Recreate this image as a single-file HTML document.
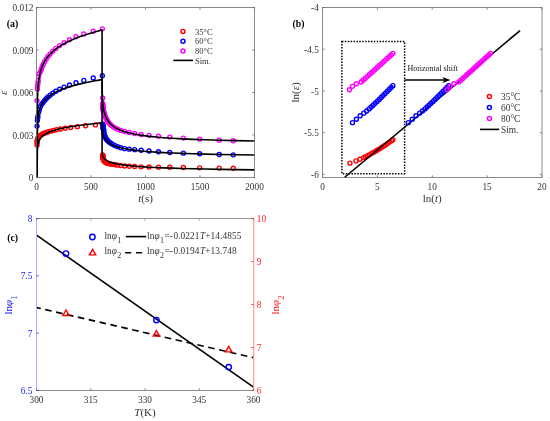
<!DOCTYPE html>
<html lang="en">
<head>
<meta charset="utf-8">
<title>Creep-recovery figure</title>
<style>
html,body{margin:0;padding:0;background:#fff;}
body{width:550px;height:421px;overflow:hidden;}
svg{display:block;font-family:"Liberation Serif",serif;}
</style>
</head>
<body>
<svg width="550" height="421" viewBox="0 0 550 421">
<rect width="550" height="421" fill="#ffffff"/>
<g id="plot-a">
<g fill="none" stroke="#ff0000" stroke-width="1.4">
<circle cx="37.05" cy="145.06" r="2"/>
<circle cx="37.12" cy="142.53" r="2"/>
<circle cx="37.21" cy="141.44" r="2"/>
<circle cx="37.32" cy="140.55" r="2"/>
<circle cx="37.43" cy="139.91" r="2"/>
<circle cx="37.64" cy="138.98" r="2"/>
<circle cx="37.92" cy="138.17" r="2"/>
<circle cx="38.32" cy="137.31" r="2"/>
<circle cx="39.29" cy="136.22" r="2"/>
<circle cx="40.29" cy="135.39" r="2"/>
<circle cx="41.58" cy="134.55" r="2"/>
<circle cx="42.5" cy="134.05" r="2"/>
<circle cx="43.6" cy="133.53" r="2"/>
<circle cx="44.92" cy="132.98" r="2"/>
<circle cx="46.5" cy="132.4" r="2"/>
<circle cx="48.4" cy="131.79" r="2"/>
<circle cx="50.65" cy="131.16" r="2"/>
<circle cx="53.35" cy="130.49" r="2"/>
<circle cx="56.59" cy="129.79" r="2"/>
<circle cx="60.47" cy="129.06" r="2"/>
<circle cx="65.13" cy="128.3" r="2"/>
<circle cx="70.73" cy="127.5" r="2"/>
<circle cx="77.44" cy="126.66" r="2"/>
<circle cx="85.58" cy="125.79" r="2"/>
<circle cx="95.4" cy="124.88" r="2"/>
<circle cx="102.34" cy="124.26" r="2"/>
<circle cx="102.68" cy="154.83" r="2"/>
<circle cx="102.7" cy="155.27" r="2"/>
<circle cx="102.73" cy="155.7" r="2"/>
<circle cx="102.77" cy="156.14" r="2"/>
<circle cx="102.81" cy="156.58" r="2"/>
<circle cx="102.86" cy="157.01" r="2"/>
<circle cx="102.93" cy="157.45" r="2"/>
<circle cx="103" cy="157.89" r="2"/>
<circle cx="103.09" cy="158.32" r="2"/>
<circle cx="103.2" cy="158.76" r="2"/>
<circle cx="103.33" cy="159.2" r="2"/>
<circle cx="103.48" cy="159.63" r="2"/>
<circle cx="103.67" cy="160.07" r="2"/>
<circle cx="103.9" cy="160.5" r="2"/>
<circle cx="104.17" cy="160.93" r="2"/>
<circle cx="104.5" cy="161.35" r="2"/>
<circle cx="104.89" cy="161.78" r="2"/>
<circle cx="105.37" cy="162.2" r="2"/>
<circle cx="105.94" cy="162.54" r="2"/>
<circle cx="106.64" cy="162.88" r="2"/>
<circle cx="107.48" cy="163.22" r="2"/>
<circle cx="108.49" cy="163.56" r="2"/>
<circle cx="109.72" cy="163.85" r="2"/>
<circle cx="111.2" cy="164.14" r="2"/>
<circle cx="112.98" cy="164.42" r="2"/>
<circle cx="115.14" cy="164.71" r="2"/>
<circle cx="117.74" cy="165.15" r="2"/>
<circle cx="120.88" cy="165.61" r="2"/>
<circle cx="124.65" cy="166.05" r="2"/>
<circle cx="129.19" cy="166.29" r="2"/>
<circle cx="134.64" cy="166.55" r="2"/>
<circle cx="141.18" cy="166.86" r="2"/>
<circle cx="149.03" cy="167.01" r="2"/>
<circle cx="158.46" cy="167.15" r="2"/>
<circle cx="169.77" cy="167.29" r="2"/>
<circle cx="183.35" cy="167.56" r="2"/>
<circle cx="199.64" cy="167.84" r="2"/>
<circle cx="219.18" cy="168.12" r="2"/>
<circle cx="233.25" cy="168.29" r="2"/>
</g>
<g fill="none" stroke="#0000ff" stroke-width="1.4">
<circle cx="37.05" cy="126.08" r="2"/>
<circle cx="37.43" cy="120.58" r="2"/>
<circle cx="37.64" cy="118.35" r="2"/>
<circle cx="37.92" cy="116.29" r="2"/>
<circle cx="38.66" cy="112.22" r="2"/>
<circle cx="39.39" cy="109.49" r="2"/>
<circle cx="40.36" cy="106.64" r="2"/>
<circle cx="41.67" cy="104.34" r="2"/>
<circle cx="43.06" cy="102.41" r="2"/>
<circle cx="44.63" cy="100.51" r="2"/>
<circle cx="46.16" cy="98.74" r="2"/>
<circle cx="47.99" cy="96.98" r="2"/>
<circle cx="50.16" cy="95.16" r="2"/>
<circle cx="52.76" cy="93.27" r="2"/>
<circle cx="55.88" cy="91.31" r="2"/>
<circle cx="59.63" cy="89.28" r="2"/>
<circle cx="64.12" cy="87.17" r="2"/>
<circle cx="69.51" cy="84.99" r="2"/>
<circle cx="75.98" cy="82.73" r="2"/>
<circle cx="83.8" cy="80.38" r="2"/>
<circle cx="93.26" cy="77.94" r="2"/>
<circle cx="102.34" cy="75.78" r="2"/>
<circle cx="102.68" cy="124.23" r="2"/>
<circle cx="102.7" cy="124.61" r="2"/>
<circle cx="102.73" cy="125.06" r="2"/>
<circle cx="102.77" cy="125.51" r="2"/>
<circle cx="102.81" cy="125.96" r="2"/>
<circle cx="102.86" cy="126.4" r="2"/>
<circle cx="102.93" cy="126.85" r="2"/>
<circle cx="103" cy="127.3" r="2"/>
<circle cx="103.09" cy="127.75" r="2"/>
<circle cx="103.2" cy="128.19" r="2"/>
<circle cx="103.33" cy="128.64" r="2"/>
<circle cx="103.48" cy="129.09" r="2"/>
<circle cx="103.67" cy="129.74" r="2"/>
<circle cx="103.9" cy="131.7" r="2"/>
<circle cx="104.17" cy="133.66" r="2"/>
<circle cx="104.5" cy="135" r="2"/>
<circle cx="104.89" cy="136.13" r="2"/>
<circle cx="105.37" cy="137.26" r="2"/>
<circle cx="105.94" cy="138.38" r="2"/>
<circle cx="106.64" cy="139.46" r="2"/>
<circle cx="107.48" cy="140.49" r="2"/>
<circle cx="108.49" cy="141.51" r="2"/>
<circle cx="109.72" cy="142.54" r="2"/>
<circle cx="111.2" cy="143.56" r="2"/>
<circle cx="112.98" cy="144.6" r="2"/>
<circle cx="115.14" cy="145.65" r="2"/>
<circle cx="117.74" cy="146.69" r="2"/>
<circle cx="120.88" cy="147.68" r="2"/>
<circle cx="124.65" cy="148.65" r="2"/>
<circle cx="129.19" cy="149.14" r="2"/>
<circle cx="134.64" cy="149.64" r="2"/>
<circle cx="141.18" cy="150.27" r="2"/>
<circle cx="149.03" cy="151.01" r="2"/>
<circle cx="158.46" cy="151.77" r="2"/>
<circle cx="169.77" cy="152.52" r="2"/>
<circle cx="183.35" cy="153.17" r="2"/>
<circle cx="199.64" cy="153.8" r="2"/>
<circle cx="219.18" cy="154.44" r="2"/>
<circle cx="233.25" cy="154.83" r="2"/>
</g>
<g fill="none" stroke="#ff00ff" stroke-width="1.4">
<circle cx="37.05" cy="100.58" r="2"/>
<circle cx="37.43" cy="89.07" r="2"/>
<circle cx="37.64" cy="85.94" r="2"/>
<circle cx="37.92" cy="83.15" r="2"/>
<circle cx="38.25" cy="80.6" r="2"/>
<circle cx="38.66" cy="76.65" r="2"/>
<circle cx="39.36" cy="73.47" r="2"/>
<circle cx="40.67" cy="71.27" r="2"/>
<circle cx="41.41" cy="68.94" r="2"/>
<circle cx="42.29" cy="66.57" r="2"/>
<circle cx="43.35" cy="64.14" r="2"/>
<circle cx="44.63" cy="61.66" r="2"/>
<circle cx="46.15" cy="59.13" r="2"/>
<circle cx="47.98" cy="56.54" r="2"/>
<circle cx="50.15" cy="53.89" r="2"/>
<circle cx="52.75" cy="51.19" r="2"/>
<circle cx="55.87" cy="48.42" r="2"/>
<circle cx="59.61" cy="45.6" r="2"/>
<circle cx="64.1" cy="42.72" r="2"/>
<circle cx="69.49" cy="39.77" r="2"/>
<circle cx="75.95" cy="36.8" r="2"/>
<circle cx="83.77" cy="34.01" r="2"/>
<circle cx="93.22" cy="31.23" r="2"/>
<circle cx="102.34" cy="28.84" r="2"/>
<circle cx="102.68" cy="98.02" r="2"/>
<circle cx="102.7" cy="103.5" r="2"/>
<circle cx="102.73" cy="104.29" r="2"/>
<circle cx="102.77" cy="105.04" r="2"/>
<circle cx="102.81" cy="105.79" r="2"/>
<circle cx="102.86" cy="106.54" r="2"/>
<circle cx="102.93" cy="107.29" r="2"/>
<circle cx="103" cy="108.04" r="2"/>
<circle cx="103.09" cy="108.79" r="2"/>
<circle cx="103.2" cy="109.54" r="2"/>
<circle cx="103.33" cy="110.29" r="2"/>
<circle cx="103.48" cy="111.04" r="2"/>
<circle cx="103.67" cy="111.78" r="2"/>
<circle cx="103.9" cy="112.53" r="2"/>
<circle cx="104.17" cy="113.28" r="2"/>
<circle cx="104.5" cy="114.03" r="2"/>
<circle cx="104.89" cy="115.36" r="2"/>
<circle cx="105.37" cy="116.69" r="2"/>
<circle cx="105.94" cy="118.02" r="2"/>
<circle cx="106.64" cy="119.42" r="2"/>
<circle cx="107.48" cy="120.9" r="2"/>
<circle cx="108.49" cy="122.38" r="2"/>
<circle cx="109.72" cy="123.84" r="2"/>
<circle cx="111.2" cy="125.22" r="2"/>
<circle cx="112.98" cy="126.61" r="2"/>
<circle cx="115.14" cy="127.99" r="2"/>
<circle cx="117.74" cy="129.24" r="2"/>
<circle cx="120.88" cy="130.47" r="2"/>
<circle cx="124.65" cy="131.57" r="2"/>
<circle cx="129.19" cy="132.57" r="2"/>
<circle cx="134.64" cy="133.57" r="2"/>
<circle cx="141.18" cy="134.49" r="2"/>
<circle cx="149.03" cy="135.35" r="2"/>
<circle cx="158.46" cy="136.22" r="2"/>
<circle cx="169.77" cy="137.08" r="2"/>
<circle cx="183.35" cy="138.1" r="2"/>
<circle cx="199.64" cy="139.13" r="2"/>
<circle cx="219.18" cy="140.17" r="2"/>
<circle cx="233.25" cy="140.81" r="2"/>
</g>
<polyline points="36.83,177.5 37.32,157.97 37.32,157.67 37.32,157.38 37.33,157.07 37.33,156.77 37.33,156.46 37.33,156.14 37.33,155.82 37.33,155.49 37.34,155.16 37.34,154.83 37.34,154.49 37.35,154.14 37.35,153.79 37.35,153.44 37.36,153.07 37.37,152.71 37.37,152.34 37.38,151.96 37.39,151.57 37.4,151.19 37.41,150.79 37.43,150.39 37.44,149.98 37.46,149.57 37.48,149.15 37.5,148.72 37.53,148.29 37.56,147.85 37.6,147.41 37.64,146.96 37.69,146.5 37.74,146.03 37.8,145.56 37.87,145.08 37.95,144.6 38.04,144.1 38.15,143.6 38.27,143.09 38.41,142.58 38.57,142.05 38.75,141.52 38.96,140.98 39.2,140.43 39.48,139.87 39.79,139.31 40.15,138.74 40.56,138.15 41.04,137.56 41.58,136.96 42.2,136.36 42.91,135.74 43.72,135.11 44.65,134.47 45.72,133.83 46.95,133.17 48.35,132.51 49.95,131.83 51.79,131.15 53.9,130.45 56.32,129.74 59.08,129.03 62.25,128.3 65.89,127.56 70.05,126.81 74.81,126.05 80.27,125.28 86.53,124.5 93.69,123.7 101.9,122.89 102.06,122.82 102.07,149.45 102.07,149.58 102.07,149.71 102.07,149.84 102.07,149.98 102.07,150.12 102.08,150.26 102.08,150.4 102.08,150.54 102.08,150.69 102.08,150.84 102.09,150.99 102.09,151.15 102.09,151.3 102.1,151.47 102.1,151.63 102.11,151.79 102.11,151.96 102.12,152.14 102.13,152.31 102.14,152.49 102.15,152.67 102.16,152.86 102.17,153.05 102.19,153.24 102.2,153.44 102.22,153.64 102.24,153.84 102.27,154.05 102.3,154.27 102.33,154.48 102.37,154.7 102.41,154.93 102.46,155.16 102.51,155.4 102.57,155.64 102.64,155.89 102.72,156.14 102.81,156.39 102.92,156.66 103.04,156.92 103.17,157.2 103.32,157.48 103.5,157.76 103.7,158.06 103.92,158.35 104.18,158.66 104.47,158.97 104.81,159.28 105.19,159.61 105.62,159.93 106.11,160.27 106.67,160.61 107.31,160.95 108.04,161.3 108.86,161.66 109.8,162.02 110.88,162.39 112.1,162.76 113.48,163.13 115.06,163.5 116.86,163.88 118.91,164.26 121.24,164.63 123.9,165.01 126.92,165.38 130.36,165.75 134.28,166.12 138.74,166.48 143.81,166.83 149.59,167.18 156.17,167.52 163.65,167.85 172.18,168.17 181.88,168.48 192.93,168.77 205.5,169.06 219.82,169.33 236.11,169.59 254.5,169.83" fill="none" stroke="#000000" stroke-width="1.6" stroke-linejoin="round" stroke-linecap="butt"/>
<polyline points="36.83,177.5 37.32,142.48 37.32,141.96 37.32,141.42 37.33,140.88 37.33,140.33 37.33,139.77 37.33,139.21 37.33,138.63 37.33,138.05 37.34,137.46 37.34,136.86 37.34,136.25 37.35,135.63 37.35,135 37.35,134.36 37.36,133.71 37.37,133.05 37.37,132.39 37.38,131.71 37.39,131.02 37.4,130.33 37.41,129.62 37.43,128.9 37.44,128.17 37.46,127.43 37.48,126.68 37.5,125.91 37.53,125.14 37.56,124.35 37.6,123.56 37.64,122.75 37.69,121.92 37.74,121.09 37.8,120.24 37.87,119.38 37.95,118.51 38.04,117.63 38.15,116.73 38.27,115.81 38.41,114.89 38.57,113.95 38.75,112.99 38.96,112.03 39.2,111.04 39.48,110.05 39.79,109.03 40.15,108.01 40.56,106.96 41.04,105.9 41.58,104.83 42.2,103.74 42.91,102.63 43.72,101.51 44.65,100.37 45.72,99.21 46.95,98.03 48.35,96.84 49.95,95.63 51.79,94.4 53.9,93.15 56.32,91.89 59.08,90.6 62.25,89.3 65.89,87.97 70.05,86.63 74.81,85.27 80.27,83.88 86.53,82.48 93.69,81.05 101.9,79.6 102.06,79.47 102.07,114.4 102.07,114.76 102.07,115.12 102.07,115.48 102.07,115.86 102.07,116.23 102.08,116.61 102.08,117 102.08,117.39 102.08,117.79 102.08,118.2 102.09,118.61 102.09,119.02 102.09,119.44 102.1,119.87 102.1,120.3 102.11,120.74 102.11,121.19 102.12,121.64 102.13,122.1 102.14,122.56 102.15,123.03 102.16,123.51 102.17,123.99 102.19,124.48 102.2,124.97 102.22,125.48 102.24,125.98 102.27,126.5 102.3,127.02 102.33,127.55 102.37,128.09 102.41,128.63 102.46,129.18 102.51,129.74 102.57,130.3 102.64,130.87 102.72,131.45 102.81,132.03 102.92,132.62 103.04,133.22 103.17,133.82 103.32,134.43 103.5,135.04 103.7,135.66 103.92,136.29 104.18,136.92 104.47,137.56 104.81,138.2 105.19,138.84 105.62,139.49 106.11,140.14 106.67,140.8 107.31,141.45 108.04,142.1 108.86,142.76 109.8,143.41 110.88,144.06 112.1,144.71 113.48,145.35 115.06,145.99 116.86,146.62 118.91,147.24 121.24,147.85 123.9,148.45 126.92,149.03 130.36,149.6 134.28,150.15 138.74,150.68 143.81,151.19 149.59,151.68 156.17,152.15 163.65,152.59 172.18,153.01 181.88,153.41 192.93,153.78 205.5,154.13 219.82,154.46 236.11,154.76 254.5,155.04" fill="none" stroke="#000000" stroke-width="1.6" stroke-linejoin="round" stroke-linecap="butt"/>
<polyline points="36.83,177.5 37.32,124.77 37.32,123.98 37.32,123.18 37.33,122.36 37.33,121.53 37.33,120.69 37.33,119.84 37.33,118.97 37.33,118.1 37.34,117.2 37.34,116.3 37.34,115.38 37.35,114.45 37.35,113.5 37.35,112.54 37.36,111.56 37.37,110.57 37.37,109.57 37.38,108.55 37.39,107.52 37.4,106.47 37.41,105.4 37.43,104.32 37.44,103.22 37.46,102.1 37.48,100.97 37.5,99.82 37.53,98.66 37.56,97.47 37.6,96.27 37.64,95.05 37.69,93.81 37.74,92.56 37.8,91.28 37.87,89.99 37.95,88.68 38.04,87.34 38.15,85.99 38.27,84.62 38.41,83.22 38.57,81.81 38.75,80.37 38.96,78.91 39.2,77.43 39.48,75.93 39.79,74.4 40.15,72.86 40.56,71.29 41.04,69.69 41.58,68.07 42.2,66.43 42.91,64.76 43.72,63.07 44.65,61.35 45.72,59.61 46.95,57.84 48.35,56.04 49.95,54.22 51.79,52.37 53.9,50.49 56.32,48.59 59.08,46.65 62.25,44.69 65.89,42.69 70.05,40.67 74.81,38.62 80.27,36.53 86.53,34.41 93.69,32.27 101.9,30.09 102.06,29.88 102.07,68.47 102.07,69.18 102.07,69.9 102.07,70.62 102.07,71.36 102.07,72.11 102.08,72.87 102.08,73.63 102.08,74.41 102.08,75.2 102.08,76 102.09,76.8 102.09,77.62 102.09,78.45 102.1,79.29 102.1,80.15 102.11,81.01 102.11,81.88 102.12,82.76 102.13,83.66 102.14,84.56 102.15,85.48 102.16,86.41 102.17,87.35 102.19,88.3 102.2,89.26 102.22,90.23 102.24,91.21 102.27,92.2 102.3,93.21 102.33,94.22 102.37,95.25 102.41,96.28 102.46,97.33 102.51,98.38 102.57,99.45 102.64,100.52 102.72,101.61 102.81,102.7 102.92,103.8 103.04,104.91 103.17,106.03 103.32,107.15 103.5,108.28 103.7,109.42 103.92,110.56 104.18,111.7 104.47,112.85 104.81,114 105.19,115.15 105.62,116.3 106.11,117.45 106.67,118.6 107.31,119.74 108.04,120.88 108.86,122 109.8,123.12 110.88,124.23 112.1,125.32 113.48,126.39 115.06,127.45 116.86,128.48 118.91,129.49 121.24,130.47 123.9,131.42 126.92,132.34 130.36,133.23 134.28,134.08 138.74,134.89 143.81,135.66 149.59,136.38 156.17,137.07 163.65,137.71 172.18,138.3 181.88,138.85 192.93,139.36 205.5,139.82 219.82,140.24 236.11,140.62 254.5,140.95" fill="none" stroke="#000000" stroke-width="1.6" stroke-linejoin="round" stroke-linecap="butt"/>
<rect x="36.5" y="7.5" width="218" height="170" fill="none" stroke="#6e6e6e" stroke-width="0.8"/>
<line x1="36.5" y1="177.5" x2="36.5" y2="175.3" stroke="#6e6e6e" stroke-width="0.8"/>
<line x1="36.5" y1="7.5" x2="36.5" y2="9.7" stroke="#6e6e6e" stroke-width="0.8"/>
<text x="36.5" y="190" font-size="9.3" text-anchor="middle" fill="#333333">0</text>
<line x1="91" y1="177.5" x2="91" y2="175.3" stroke="#6e6e6e" stroke-width="0.8"/>
<line x1="91" y1="7.5" x2="91" y2="9.7" stroke="#6e6e6e" stroke-width="0.8"/>
<text x="91" y="190" font-size="9.3" text-anchor="middle" fill="#333333">500</text>
<line x1="145.5" y1="177.5" x2="145.5" y2="175.3" stroke="#6e6e6e" stroke-width="0.8"/>
<line x1="145.5" y1="7.5" x2="145.5" y2="9.7" stroke="#6e6e6e" stroke-width="0.8"/>
<text x="145.5" y="190" font-size="9.3" text-anchor="middle" fill="#333333">1000</text>
<line x1="200" y1="177.5" x2="200" y2="175.3" stroke="#6e6e6e" stroke-width="0.8"/>
<line x1="200" y1="7.5" x2="200" y2="9.7" stroke="#6e6e6e" stroke-width="0.8"/>
<text x="200" y="190" font-size="9.3" text-anchor="middle" fill="#333333">1500</text>
<line x1="254.5" y1="177.5" x2="254.5" y2="175.3" stroke="#6e6e6e" stroke-width="0.8"/>
<line x1="254.5" y1="7.5" x2="254.5" y2="9.7" stroke="#6e6e6e" stroke-width="0.8"/>
<text x="254.5" y="190" font-size="9.3" text-anchor="middle" fill="#333333">2000</text>
<line x1="36.5" y1="177.5" x2="38.7" y2="177.5" stroke="#6e6e6e" stroke-width="0.8"/>
<line x1="254.5" y1="177.5" x2="252.3" y2="177.5" stroke="#6e6e6e" stroke-width="0.8"/>
<text x="33.5" y="181" font-size="9.3" text-anchor="end" fill="#333333">0</text>
<line x1="36.5" y1="135" x2="38.7" y2="135" stroke="#6e6e6e" stroke-width="0.8"/>
<line x1="254.5" y1="135" x2="252.3" y2="135" stroke="#6e6e6e" stroke-width="0.8"/>
<text x="33.5" y="138.5" font-size="9.3" text-anchor="end" fill="#333333">0.003</text>
<line x1="36.5" y1="92.5" x2="38.7" y2="92.5" stroke="#6e6e6e" stroke-width="0.8"/>
<line x1="254.5" y1="92.5" x2="252.3" y2="92.5" stroke="#6e6e6e" stroke-width="0.8"/>
<text x="33.5" y="96" font-size="9.3" text-anchor="end" fill="#333333">0.006</text>
<line x1="36.5" y1="50" x2="38.7" y2="50" stroke="#6e6e6e" stroke-width="0.8"/>
<line x1="254.5" y1="50" x2="252.3" y2="50" stroke="#6e6e6e" stroke-width="0.8"/>
<text x="33.5" y="53.5" font-size="9.3" text-anchor="end" fill="#333333">0.009</text>
<line x1="36.5" y1="7.5" x2="38.7" y2="7.5" stroke="#6e6e6e" stroke-width="0.8"/>
<line x1="254.5" y1="7.5" x2="252.3" y2="7.5" stroke="#6e6e6e" stroke-width="0.8"/>
<text x="33.5" y="11" font-size="9.3" text-anchor="end" fill="#333333">0.012</text>
<text x="145.5" y="202.3" font-size="11" text-anchor="middle" fill="#333333"><tspan font-style="italic">t</tspan>(s)</text>
<text x="7.4" y="92.9" font-size="11" text-anchor="middle" fill="#333333" font-style="italic" transform="rotate(-90 7.4 92.9)">ε</text>
<text x="12.5" y="27.4" font-size="9.8" text-anchor="middle" fill="#000" font-weight="bold">(a)</text>
<circle cx="183" cy="31.5" r="2" fill="none" stroke="#ff0000" stroke-width="1.5"/>
<text x="195" y="34.5" font-size="8.5" text-anchor="start" fill="#333333">35°C</text>
<circle cx="183" cy="41.2" r="2" fill="none" stroke="#0000ff" stroke-width="1.5"/>
<text x="195" y="44.2" font-size="8.5" text-anchor="start" fill="#333333">60°C</text>
<circle cx="183" cy="50.9" r="2" fill="none" stroke="#ff00ff" stroke-width="1.5"/>
<text x="195" y="53.9" font-size="8.5" text-anchor="start" fill="#333333">80°C</text>
<polyline points="173.3,60.4 193,60.4" fill="none" stroke="#000000" stroke-width="1.6" stroke-linejoin="round" stroke-linecap="butt"/>
<text x="195" y="63.6" font-size="8.5" text-anchor="start" fill="#333333">Sim.</text>
</g>
<g id="plot-b">
<g fill="none" stroke="#ff0000" stroke-width="1.4">
<circle cx="349.94" cy="163.13" r="2"/>
<circle cx="355.97" cy="160.9" r="2"/>
<circle cx="359.92" cy="159.24" r="2"/>
<circle cx="363.55" cy="157.6" r="2"/>
<circle cx="365.55" cy="156.63" r="2"/>
<circle cx="367.55" cy="155.63" r="2"/>
<circle cx="369.55" cy="154.59" r="2"/>
<circle cx="371.55" cy="153.52" r="2"/>
<circle cx="373.55" cy="152.4" r="2"/>
<circle cx="375.55" cy="151.25" r="2"/>
<circle cx="377.55" cy="150.06" r="2"/>
<circle cx="379.55" cy="148.83" r="2"/>
<circle cx="381.55" cy="147.56" r="2"/>
<circle cx="383.55" cy="146.25" r="2"/>
<circle cx="385.55" cy="144.91" r="2"/>
<circle cx="387.56" cy="143.53" r="2"/>
<circle cx="389.56" cy="142.11" r="2"/>
<circle cx="391.56" cy="140.65" r="2"/>
<circle cx="392.87" cy="139.67" r="2"/>
</g>
<polyline points="344.45,177.5 520.05,30.53" fill="none" stroke="#000000" stroke-width="1.6" stroke-linejoin="round" stroke-linecap="butt"/>
<g fill="none" stroke="#0000ff" stroke-width="1.4">
<circle cx="352.46" cy="122.66" r="2"/>
<circle cx="356.41" cy="119.24" r="2"/>
<circle cx="360.14" cy="115.82" r="2"/>
<circle cx="363.77" cy="113.15" r="2"/>
<circle cx="366.62" cy="110.98" r="2"/>
<circle cx="369.14" cy="108.89" r="2"/>
<circle cx="371.14" cy="106.99" r="2"/>
<circle cx="373.15" cy="105.15" r="2"/>
<circle cx="375.15" cy="103.28" r="2"/>
<circle cx="377.15" cy="101.39" r="2"/>
<circle cx="379.15" cy="99.47" r="2"/>
<circle cx="381.15" cy="97.53" r="2"/>
<circle cx="383.15" cy="95.56" r="2"/>
<circle cx="385.15" cy="93.57" r="2"/>
<circle cx="387.15" cy="91.55" r="2"/>
<circle cx="389.15" cy="89.51" r="2"/>
<circle cx="391.15" cy="87.44" r="2"/>
<circle cx="392.87" cy="85.64" r="2"/>
</g>
<g fill="none" stroke="#0000ff" stroke-width="1.4">
<circle cx="408.32" cy="122.66" r="2"/>
<circle cx="412.28" cy="119.24" r="2"/>
<circle cx="416.01" cy="115.82" r="2"/>
<circle cx="419.63" cy="113.15" r="2"/>
<circle cx="422.48" cy="110.98" r="2"/>
<circle cx="425.01" cy="108.89" r="2"/>
<circle cx="427.01" cy="106.99" r="2"/>
<circle cx="429.01" cy="105.15" r="2"/>
<circle cx="431.01" cy="103.28" r="2"/>
<circle cx="433.01" cy="101.39" r="2"/>
<circle cx="435.01" cy="99.47" r="2"/>
<circle cx="437.01" cy="97.53" r="2"/>
<circle cx="439.01" cy="95.56" r="2"/>
<circle cx="441.01" cy="93.57" r="2"/>
<circle cx="443.01" cy="91.55" r="2"/>
<circle cx="445.01" cy="89.51" r="2"/>
<circle cx="447.01" cy="87.44" r="2"/>
<circle cx="448.73" cy="85.64" r="2"/>
</g>
<g fill="none" stroke="#ff00ff" stroke-width="1.4">
<circle cx="349.39" cy="89.7" r="2"/>
<circle cx="352.46" cy="86.36" r="2"/>
<circle cx="356.3" cy="83.77" r="2"/>
<circle cx="361.13" cy="82.02" r="2"/>
<circle cx="363.13" cy="80.22" r="2"/>
<circle cx="365.13" cy="78.41" r="2"/>
<circle cx="367.13" cy="76.6" r="2"/>
<circle cx="369.13" cy="74.8" r="2"/>
<circle cx="371.14" cy="72.99" r="2"/>
<circle cx="373.14" cy="71.19" r="2"/>
<circle cx="375.14" cy="69.38" r="2"/>
<circle cx="377.14" cy="67.57" r="2"/>
<circle cx="379.14" cy="65.77" r="2"/>
<circle cx="381.14" cy="63.96" r="2"/>
<circle cx="383.14" cy="62.16" r="2"/>
<circle cx="385.14" cy="60.35" r="2"/>
<circle cx="387.14" cy="58.55" r="2"/>
<circle cx="389.14" cy="56.74" r="2"/>
<circle cx="391.14" cy="54.93" r="2"/>
<circle cx="392.87" cy="53.37" r="2"/>
</g>
<g fill="none" stroke="#ff00ff" stroke-width="1.4">
<circle cx="447.07" cy="89.7" r="2"/>
<circle cx="450.14" cy="86.36" r="2"/>
<circle cx="453.98" cy="83.77" r="2"/>
<circle cx="458.81" cy="82.02" r="2"/>
<circle cx="460.81" cy="80.22" r="2"/>
<circle cx="462.81" cy="78.41" r="2"/>
<circle cx="464.81" cy="76.6" r="2"/>
<circle cx="466.81" cy="74.8" r="2"/>
<circle cx="468.81" cy="72.99" r="2"/>
<circle cx="470.81" cy="71.19" r="2"/>
<circle cx="472.81" cy="69.38" r="2"/>
<circle cx="474.82" cy="67.57" r="2"/>
<circle cx="476.82" cy="65.77" r="2"/>
<circle cx="478.82" cy="63.96" r="2"/>
<circle cx="480.82" cy="62.16" r="2"/>
<circle cx="482.82" cy="60.35" r="2"/>
<circle cx="484.82" cy="58.55" r="2"/>
<circle cx="486.82" cy="56.74" r="2"/>
<circle cx="488.82" cy="54.93" r="2"/>
<circle cx="490.55" cy="53.37" r="2"/>
</g>
<rect x="341.9" y="41.5" width="62.7" height="132.2" fill="none" stroke="#000" stroke-width="1.5" stroke-dasharray="1.5 1.4"/>
<polyline points="404.5,80.1 446,80.1" fill="none" stroke="#000000" stroke-width="1.5" stroke-linejoin="round" stroke-linecap="butt"/>
<polygon points="450.4,80.1 442.4,77.1 444.4,80.1 442.4,83.1" fill="#000"/>
<text x="407.4" y="70.9" font-size="8" text-anchor="start" fill="#111">Horizontal shift</text>
<rect x="322.5" y="7.5" width="219.5" height="170" fill="none" stroke="#6e6e6e" stroke-width="0.8"/>
<line x1="322.5" y1="177.5" x2="322.5" y2="175.3" stroke="#6e6e6e" stroke-width="0.8"/>
<line x1="322.5" y1="7.5" x2="322.5" y2="9.7" stroke="#6e6e6e" stroke-width="0.8"/>
<text x="322.5" y="190" font-size="9.3" text-anchor="middle" fill="#333333">0</text>
<line x1="377.38" y1="177.5" x2="377.38" y2="175.3" stroke="#6e6e6e" stroke-width="0.8"/>
<line x1="377.38" y1="7.5" x2="377.38" y2="9.7" stroke="#6e6e6e" stroke-width="0.8"/>
<text x="377.38" y="190" font-size="9.3" text-anchor="middle" fill="#333333">5</text>
<line x1="432.25" y1="177.5" x2="432.25" y2="175.3" stroke="#6e6e6e" stroke-width="0.8"/>
<line x1="432.25" y1="7.5" x2="432.25" y2="9.7" stroke="#6e6e6e" stroke-width="0.8"/>
<text x="432.25" y="190" font-size="9.3" text-anchor="middle" fill="#333333">10</text>
<line x1="487.12" y1="177.5" x2="487.12" y2="175.3" stroke="#6e6e6e" stroke-width="0.8"/>
<line x1="487.12" y1="7.5" x2="487.12" y2="9.7" stroke="#6e6e6e" stroke-width="0.8"/>
<text x="487.12" y="190" font-size="9.3" text-anchor="middle" fill="#333333">15</text>
<line x1="542" y1="177.5" x2="542" y2="175.3" stroke="#6e6e6e" stroke-width="0.8"/>
<line x1="542" y1="7.5" x2="542" y2="9.7" stroke="#6e6e6e" stroke-width="0.8"/>
<text x="542" y="190" font-size="9.3" text-anchor="middle" fill="#333333">20</text>
<line x1="322.5" y1="7.5" x2="324.7" y2="7.5" stroke="#6e6e6e" stroke-width="0.8"/>
<line x1="542" y1="7.5" x2="539.8" y2="7.5" stroke="#6e6e6e" stroke-width="0.8"/>
<text x="318.8" y="11.1" font-size="9.3" text-anchor="end" fill="#333333">-4</text>
<line x1="322.5" y1="49.23" x2="324.7" y2="49.23" stroke="#6e6e6e" stroke-width="0.8"/>
<line x1="542" y1="49.23" x2="539.8" y2="49.23" stroke="#6e6e6e" stroke-width="0.8"/>
<text x="318.8" y="52.83" font-size="9.3" text-anchor="end" fill="#333333">-4.5</text>
<line x1="322.5" y1="90.95" x2="324.7" y2="90.95" stroke="#6e6e6e" stroke-width="0.8"/>
<line x1="542" y1="90.95" x2="539.8" y2="90.95" stroke="#6e6e6e" stroke-width="0.8"/>
<text x="318.8" y="94.55" font-size="9.3" text-anchor="end" fill="#333333">-5</text>
<line x1="322.5" y1="132.68" x2="324.7" y2="132.68" stroke="#6e6e6e" stroke-width="0.8"/>
<line x1="542" y1="132.68" x2="539.8" y2="132.68" stroke="#6e6e6e" stroke-width="0.8"/>
<text x="318.8" y="136.28" font-size="9.3" text-anchor="end" fill="#333333">-5.5</text>
<line x1="322.5" y1="174.4" x2="324.7" y2="174.4" stroke="#6e6e6e" stroke-width="0.8"/>
<line x1="542" y1="174.4" x2="539.8" y2="174.4" stroke="#6e6e6e" stroke-width="0.8"/>
<text x="318.8" y="178" font-size="9.3" text-anchor="end" fill="#333333">-6</text>
<text x="432.3" y="202.3" font-size="11" text-anchor="middle" fill="#333333">ln(<tspan font-style="italic">t</tspan>)</text>
<text x="299.3" y="92.4" font-size="11" text-anchor="middle" fill="#333333" transform="rotate(-90 299.3 92.4)">ln(<tspan font-style="italic">ε</tspan>)</text>
<text x="298.5" y="27.4" font-size="9.8" text-anchor="middle" fill="#000" font-weight="bold">(b)</text>
<circle cx="489.4" cy="96.5" r="2" fill="none" stroke="#ff0000" stroke-width="1.5"/>
<text x="501" y="99.7" font-size="9.4" text-anchor="start" fill="#333333">35°C</text>
<circle cx="489.4" cy="107.5" r="2" fill="none" stroke="#0000ff" stroke-width="1.5"/>
<text x="501" y="110.7" font-size="9.4" text-anchor="start" fill="#333333">60°C</text>
<circle cx="489.4" cy="118.5" r="2" fill="none" stroke="#ff00ff" stroke-width="1.5"/>
<text x="501" y="121.7" font-size="9.4" text-anchor="start" fill="#333333">80°C</text>
<polyline points="480,129.4 499.2,129.4" fill="none" stroke="#000000" stroke-width="1.6" stroke-linejoin="round" stroke-linecap="butt"/>
<text x="501" y="132.6" font-size="9.4" text-anchor="start" fill="#333333">Sim.</text>
</g>
<g id="plot-c">
<polyline points="36.5,235.07 253.5,387.12" fill="none" stroke="#000000" stroke-width="1.6" stroke-linejoin="round" stroke-linecap="butt"/>
<line x1="36.5" y1="307.6" x2="253.5" y2="357.65" stroke="#000" stroke-width="1.6" stroke-dasharray="6.6 4.55" stroke-dashoffset="2.2"/>
<circle cx="65.98" cy="253.59" r="2.7" fill="none" stroke="#0000ff" stroke-width="1.45"/>
<circle cx="156.39" cy="320.09" r="2.7" fill="none" stroke="#0000ff" stroke-width="1.45"/>
<circle cx="228.73" cy="367.11" r="2.7" fill="none" stroke="#0000ff" stroke-width="1.45"/>
<polygon points="65.98,310.02 62.83,315.48 69.13,315.48" fill="none" stroke="#ff0000" stroke-width="1.4" stroke-linejoin="miter"/>
<polygon points="156.39,330.66 153.24,336.12 159.54,336.12" fill="none" stroke="#ff0000" stroke-width="1.4" stroke-linejoin="miter"/>
<polygon points="228.73,346.44 225.58,351.9 231.88,351.9" fill="none" stroke="#ff0000" stroke-width="1.4" stroke-linejoin="miter"/>
<line x1="36.5" y1="218.5" x2="253.5" y2="218.5" stroke="#8a8a8a" stroke-width="0.9"/>
<line x1="36.5" y1="390.5" x2="253.5" y2="390.5" stroke="#6e6e6e" stroke-width="0.8"/>
<line x1="36.5" y1="218.1" x2="36.5" y2="390.9" stroke="#b0b0ff" stroke-width="1"/>
<line x1="253.7" y1="218.1" x2="253.7" y2="390.9" stroke="#ff9494" stroke-width="1.1"/>
<line x1="36.5" y1="390.5" x2="36.5" y2="388.3" stroke="#6e6e6e" stroke-width="0.8"/>
<line x1="36.5" y1="218.5" x2="36.5" y2="220.7" stroke="#8a8a8a" stroke-width="0.8"/>
<text x="36.5" y="402.8" font-size="9.3" text-anchor="middle" fill="#333333">300</text>
<line x1="90.75" y1="390.5" x2="90.75" y2="388.3" stroke="#6e6e6e" stroke-width="0.8"/>
<line x1="90.75" y1="218.5" x2="90.75" y2="220.7" stroke="#8a8a8a" stroke-width="0.8"/>
<text x="90.75" y="402.8" font-size="9.3" text-anchor="middle" fill="#333333">315</text>
<line x1="145" y1="390.5" x2="145" y2="388.3" stroke="#6e6e6e" stroke-width="0.8"/>
<line x1="145" y1="218.5" x2="145" y2="220.7" stroke="#8a8a8a" stroke-width="0.8"/>
<text x="145" y="402.8" font-size="9.3" text-anchor="middle" fill="#333333">330</text>
<line x1="199.25" y1="390.5" x2="199.25" y2="388.3" stroke="#6e6e6e" stroke-width="0.8"/>
<line x1="199.25" y1="218.5" x2="199.25" y2="220.7" stroke="#8a8a8a" stroke-width="0.8"/>
<text x="199.25" y="402.8" font-size="9.3" text-anchor="middle" fill="#333333">345</text>
<line x1="253.5" y1="390.5" x2="253.5" y2="388.3" stroke="#6e6e6e" stroke-width="0.8"/>
<line x1="253.5" y1="218.5" x2="253.5" y2="220.7" stroke="#8a8a8a" stroke-width="0.8"/>
<text x="253.5" y="402.8" font-size="9.3" text-anchor="middle" fill="#333333">360</text>
<line x1="36.5" y1="390.5" x2="38.7" y2="390.5" stroke="#0000ff" stroke-width="0.7"/>
<text x="32.3" y="394.1" font-size="9.3" text-anchor="end" fill="#2020ff">6.5</text>
<line x1="36.5" y1="333.17" x2="38.7" y2="333.17" stroke="#0000ff" stroke-width="0.7"/>
<text x="32.3" y="336.77" font-size="9.3" text-anchor="end" fill="#2020ff">7</text>
<line x1="36.5" y1="275.83" x2="38.7" y2="275.83" stroke="#0000ff" stroke-width="0.7"/>
<text x="32.3" y="279.43" font-size="9.3" text-anchor="end" fill="#2020ff">7.5</text>
<line x1="36.5" y1="218.5" x2="38.7" y2="218.5" stroke="#0000ff" stroke-width="0.7"/>
<text x="32.3" y="222.1" font-size="9.3" text-anchor="end" fill="#2020ff">8</text>
<line x1="253.5" y1="390.5" x2="251.3" y2="390.5" stroke="#ff0000" stroke-width="0.7"/>
<text x="256.8" y="393.8" font-size="9.3" text-anchor="start" fill="#ff2020">6</text>
<line x1="253.5" y1="347.5" x2="251.3" y2="347.5" stroke="#ff0000" stroke-width="0.7"/>
<text x="256.8" y="350.8" font-size="9.3" text-anchor="start" fill="#ff2020">7</text>
<line x1="253.5" y1="304.5" x2="251.3" y2="304.5" stroke="#ff0000" stroke-width="0.7"/>
<text x="256.8" y="307.8" font-size="9.3" text-anchor="start" fill="#ff2020">8</text>
<line x1="253.5" y1="261.5" x2="251.3" y2="261.5" stroke="#ff0000" stroke-width="0.7"/>
<text x="256.8" y="264.8" font-size="9.3" text-anchor="start" fill="#ff2020">9</text>
<line x1="253.5" y1="218.5" x2="251.3" y2="218.5" stroke="#ff0000" stroke-width="0.7"/>
<text x="256.8" y="221.8" font-size="9.3" text-anchor="start" fill="#ff2020">10</text>
<text x="145" y="415.6" font-size="11" text-anchor="middle" fill="#333333"><tspan font-style="italic">T</tspan>(K)</text>
<text x="11.8" y="305" font-size="11" text-anchor="middle" fill="#2020ff" transform="rotate(-90 11.8 305)">ln<tspan font-style="italic">φ</tspan><tspan font-size="8.6" dy="5.1">1</tspan></text>
<text x="278.7" y="305" font-size="11" text-anchor="middle" fill="#ff2020" transform="rotate(-90 278.7 305)">ln<tspan font-style="italic">φ</tspan><tspan font-size="8.6" dy="5.1">2</tspan></text>
<text x="12.6" y="240.8" font-size="9.8" text-anchor="middle" fill="#000" font-weight="bold">(c)</text>
<circle cx="92.4" cy="237" r="2.7" fill="none" stroke="#0000ff" stroke-width="1.45"/>
<polygon points="92.6,249.46 89.45,254.92 95.75,254.92" fill="none" stroke="#ff0000" stroke-width="1.4" stroke-linejoin="miter"/>
<text x="104.5" y="238.9" font-size="9.3" fill="#333333">ln<tspan font-style="italic">φ</tspan><tspan font-size="8" dy="4.4" dx="0.4">1</tspan></text>
<text x="104.5" y="253.8" font-size="9.3" fill="#333333">ln<tspan font-style="italic">φ</tspan><tspan font-size="8" dy="4.4" dx="0.4">2</tspan></text>
<polyline points="125.8,236.6 146.2,236.6" fill="none" stroke="#000000" stroke-width="1.6" stroke-linejoin="round" stroke-linecap="butt"/>
<line x1="125.1" y1="252.7" x2="142.1" y2="252.7" stroke="#000" stroke-width="1.6" stroke-dasharray="6.1 4.9"/>
<text x="147" y="238.9" font-size="9.3" fill="#333333" letter-spacing="0.1">ln<tspan font-style="italic">φ</tspan><tspan font-size="8" dy="4.4" dx="0.4">1</tspan><tspan dy="-4.4" dx="0.2">=-</tspan><tspan dx="0.5">0.0221</tspan><tspan font-style="italic" dx="0.3">T</tspan>+14.4855</text>
<text x="147" y="253.8" font-size="9.3" fill="#333333" letter-spacing="0.1">ln<tspan font-style="italic">φ</tspan><tspan font-size="8" dy="4.4" dx="0.4">2</tspan><tspan dy="-4.4" dx="0.2">=-</tspan><tspan dx="0.5">0.0194</tspan><tspan font-style="italic" dx="0.3">T</tspan>+13.748</text>
</g>
</svg>
</body>
</html>
